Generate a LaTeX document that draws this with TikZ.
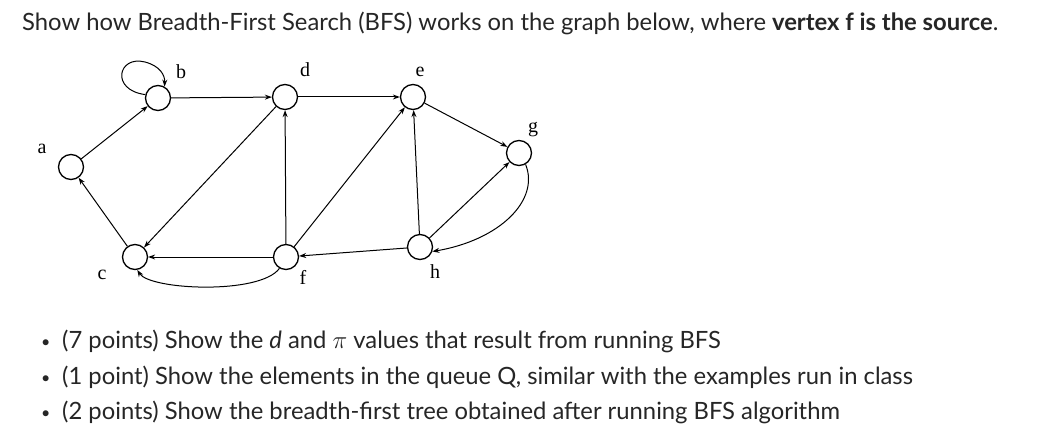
\documentclass[tikz,border=0pt]{standalone}
\usepackage{fontspec}
\setmainfont{Lato}
\newfontfamily\serif{Liberation Serif}
\usetikzlibrary{arrows.meta}
\begin{document}
\begin{tikzpicture}[x=1pt,y=-1pt,
  vtx/.style={circle,draw,line width=1.3pt,minimum size=25pt,inner sep=0pt},
  lbl/.style={font=\serif\fontsize{20}{22}\selectfont,inner sep=0pt},
  txt/.style={anchor=base west,inner sep=0pt,font=\fontsize{23.8}{28}\selectfont,text=black!85},
  arr/.style={-{Stealth[length=7pt,width=5pt]},line width=1pt}]
\useasboundingbox[fill=white] (0,0) rectangle (1051,433);
\node[txt] (title) at (22,31) {Show how Breadth-First Search (BFS) works on the graph below, where \textbf{vertex f is the source}.};
\node[vtx] (a) at (71,167) {};
\node[vtx] (b) at (158,98) {};
\node[vtx] (d) at (285,97) {};
\node[vtx] (e) at (413,97) {};
\node[vtx] (g) at (519,153) {};
\node[vtx] (c) at (135,257) {};
\node[vtx] (f) at (286,257) {};
\node[vtx] (h) at (420,247) {};
\node[lbl] (la) at (42,149) {a};
\node[lbl] (lb) at (181,72) {b};
\node[lbl] (ld) at (305,70) {d};
\node[lbl] (le) at (420,72) {e};
\node[lbl] (lg) at (533,130) {g};
\node[lbl] (lc) at (102,275) {c};
\node[lbl] (lf) at (303,277) {f};
\node[lbl] (lh) at (435,272) {h};
\draw[arr] (a) -- (b);
\draw[arr] (b.165) .. controls (110,90) and (118,55) .. (145,62) .. controls (160,66) and (165,75) .. (b.60);
\draw[arr] (b) -- (d);
\draw[arr] (d) -- (e);
\draw[arr] (e) -- (g);
\draw[arr] (d) -- (c);
\draw[arr] (f) -- (d);
\draw[arr] (f) -- (e);
\draw[arr] (h) -- (e);
\draw[arr] (h) -- (g);
\draw[arr] (g.-60) .. controls (540,200) and (500,240) .. (h.-20);
\draw[arr] (h) -- (f);
\draw[arr] (f) -- (c);
\draw[arr] (c) -- (a);
\draw[arr] (f.-120) .. controls (260,295) and (150,290) .. (c.-80);
\foreach \y/\t [count=\i] in {340/{(7 points) Show the \textit{d} and $\pi$ values that result from running BFS},
  376/{(1 point) Show the elements in the queue Q, similar with the examples run in class},
  411/{(2 points) Show the breadth-first tree obtained after running BFS algorithm}}{
  \node[txt,font=\fontsize{16}{20}\selectfont] (bul\i) at (41,\y+7) {\textbullet};
  \node[txt] (item\i) at (62,\y+8) {\t};
}
\end{tikzpicture}
\end{document}
